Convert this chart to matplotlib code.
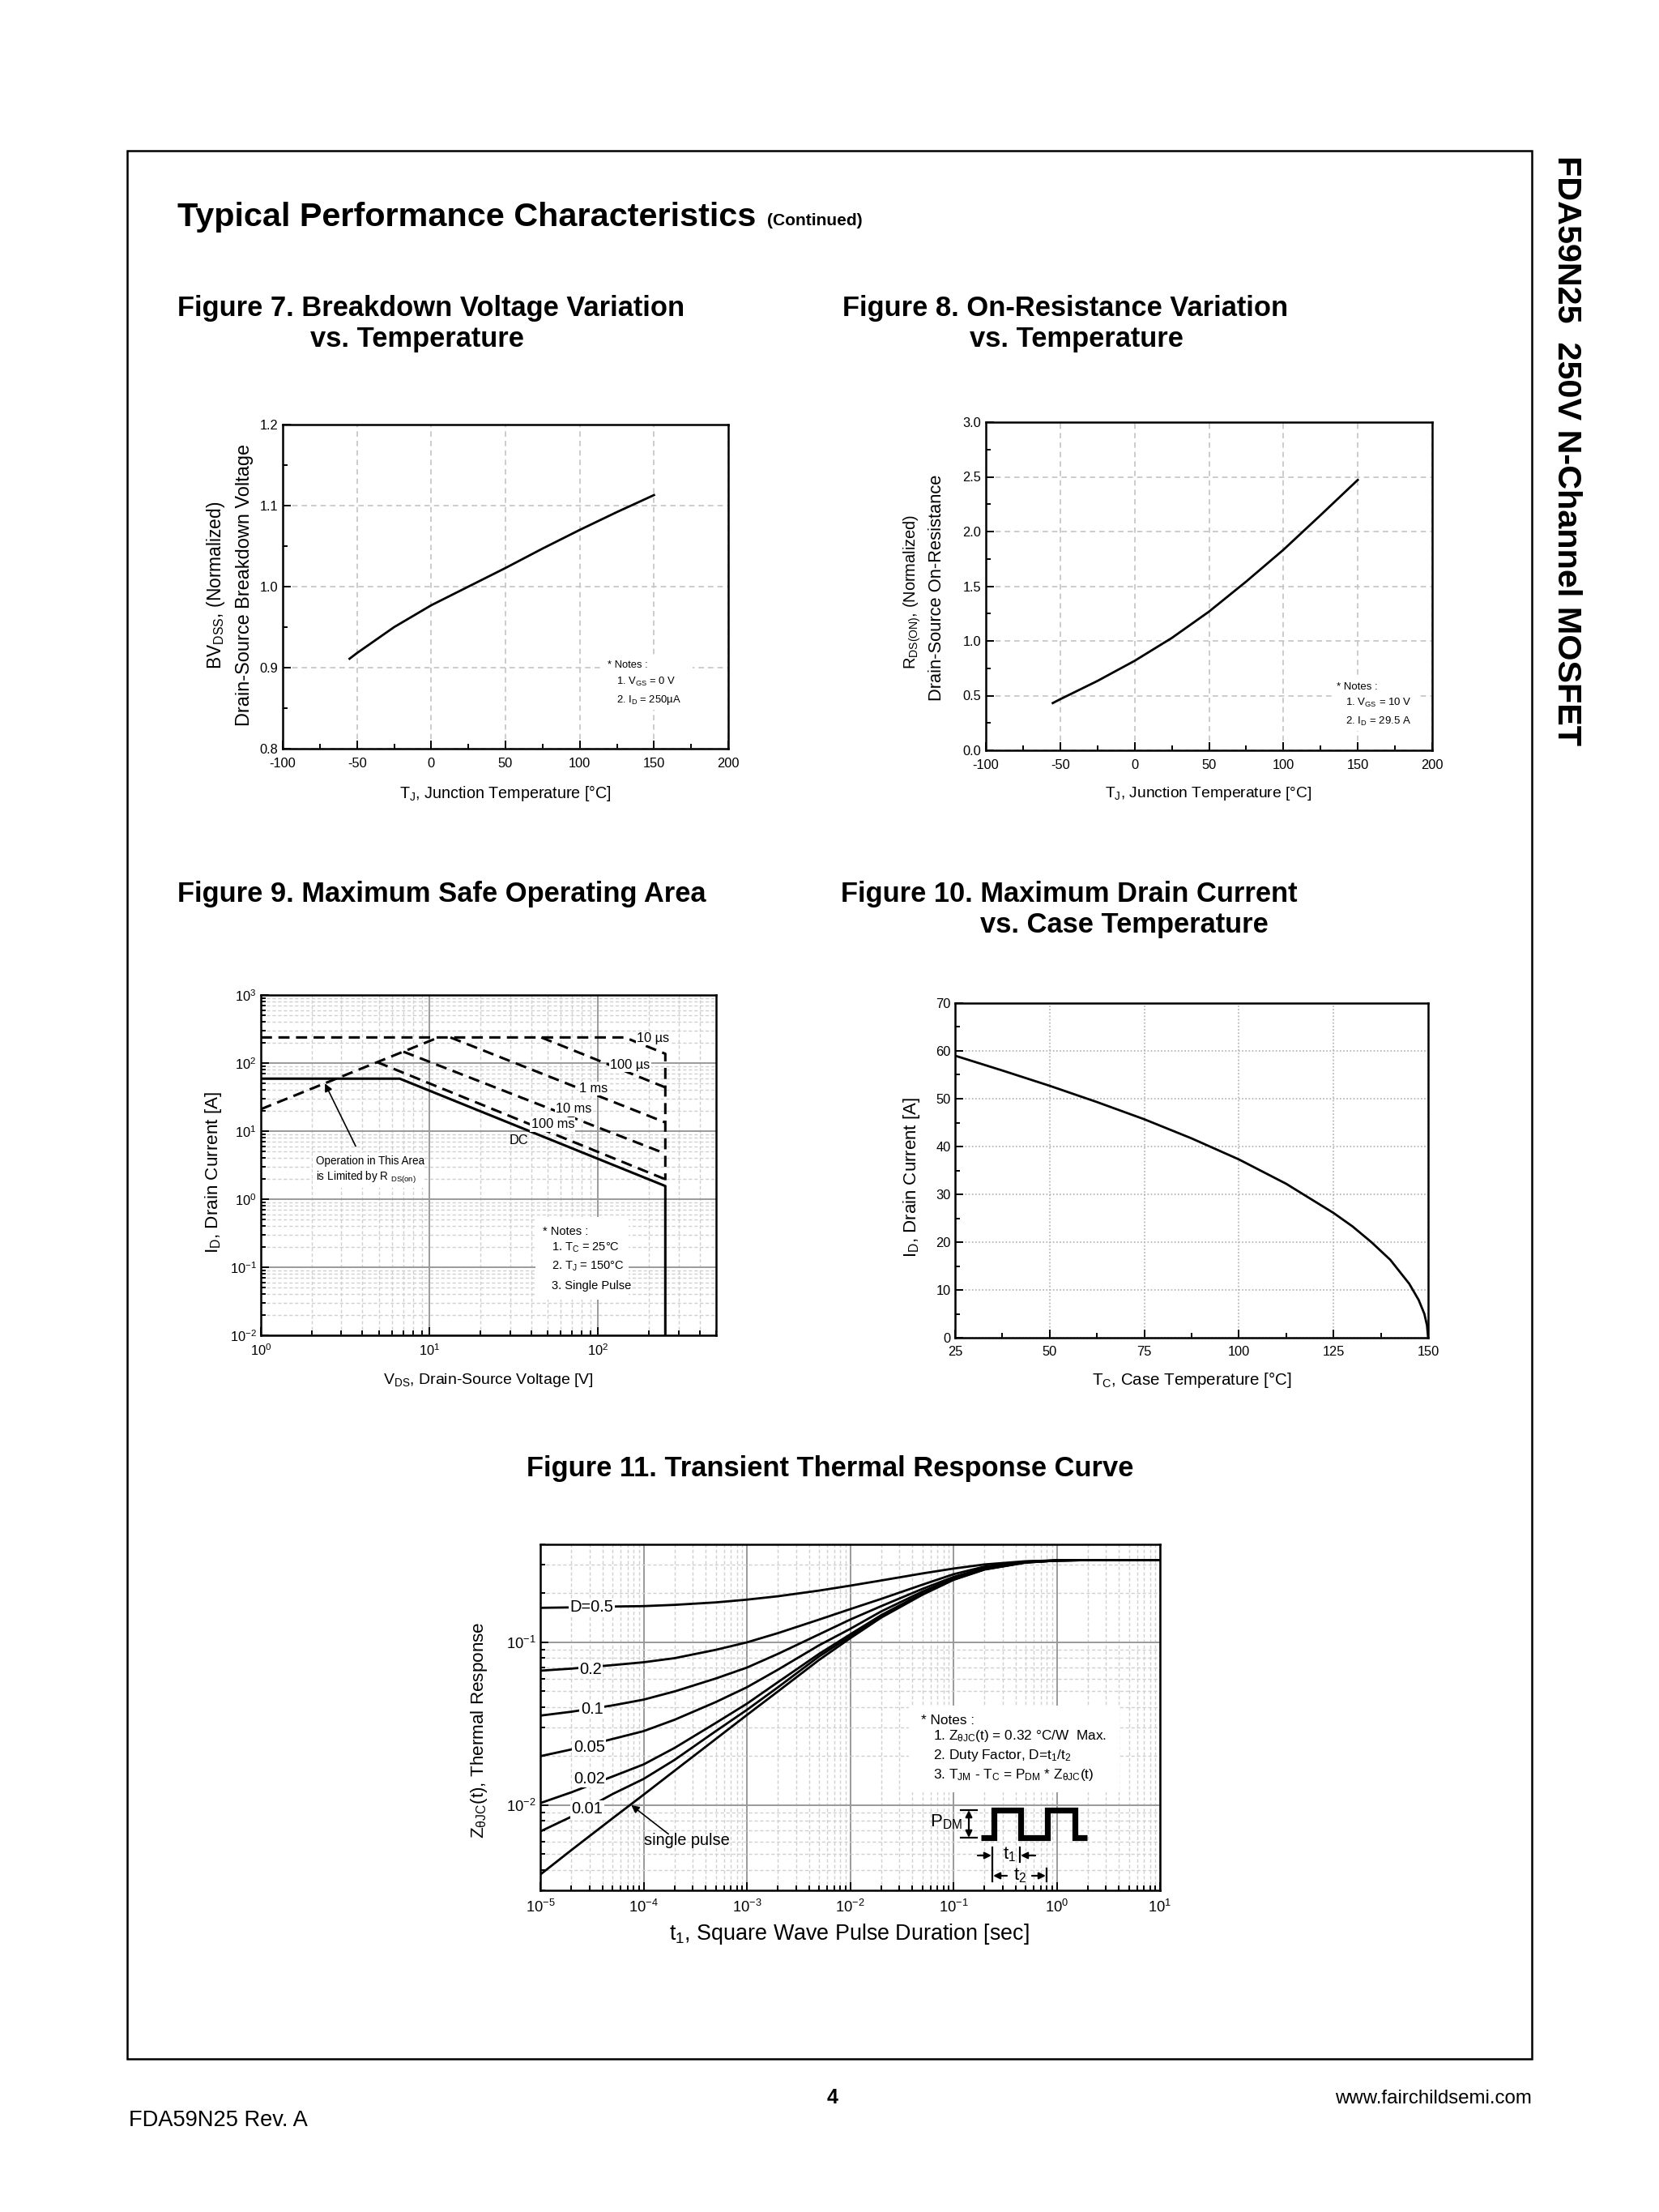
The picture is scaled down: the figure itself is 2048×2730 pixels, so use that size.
import numpy as np
import matplotlib
matplotlib.use('Agg')
import matplotlib.pyplot as plt
import matplotlib.font_manager as fm
from matplotlib.ticker import (MultipleLocator, LogLocator, NullFormatter,
                               LogFormatterMathtext, FormatStrFormatter)
from matplotlib.patches import Rectangle
from matplotlib.lines import Line2D

# ---------------- DATA ----------------
# Figure 7: breakdown voltage vs temperature
tj7 = [-55, -50, -25, 0, 25, 50, 75, 100, 125, 150]
bv7 = [0.911, 0.918, 0.950, 0.977, 1.000, 1.023, 1.047, 1.070, 1.092, 1.113]

# Figure 8: on-resistance vs temperature
tj8 = [-55, -50, -25, 0, 25, 50, 75, 100, 125, 150]
rds8 = [0.432, 0.467, 0.634, 0.818, 1.027, 1.268, 1.543, 1.833, 2.150, 2.472]

# Figure 9: safe operating area
vds_dc = [1, 6.66, 250, 250]
id_dc = [59, 59, 1.56, 0.01]
vds_rds = [1, 11.3]
id_rds = [21, 238]
vds_10us = [1, 144, 250, 250]
id_10us = [238, 238, 137, 1.9]
vds_100us = [46, 250]
id_100us = [238, 43.9]
vds_1ms = [13.3, 250]
id_1ms = [238, 13.4]
vds_10ms = [7.0, 250]
id_10ms = [147, 4.67]
vds_100ms = [4.9, 250]
id_100ms = [103, 1.96]
soa_labels = ['10 µs', '100 µs', '1 ms', '10 ms', '100 ms']
soa_label_v = [170, 118, 77, 56, 40]
soa_label_i = [232, 93, 42, 21, 12.5]

# Figure 10: max drain current vs case temperature
tc10 = [25, 37.5, 50, 62.5, 75, 87.5, 100, 112.5, 125, 130, 135, 140, 145, 147.5, 149, 149.7, 150]
id10 = [59.0, 55.9, 52.7, 49.3, 45.7, 41.7, 37.3, 32.2, 26.1, 23.3, 20.0, 16.3, 11.3, 7.9, 5.0, 2.6, 0.0]

# Figure 11: transient thermal response
t11 = [1e-5, 2e-5, 5e-5, 1e-4, 2e-4, 5e-4, 1e-3, 2e-3, 5e-3, 1e-2,
       2e-2, 5e-2, 1e-1, 2e-1, 5e-1, 1, 2, 5, 10]
z_d05 = [0.163, 0.164, 0.166, 0.167, 0.170, 0.176, 0.183, 0.192, 0.208, 0.223,
         0.240, 0.265, 0.284, 0.301, 0.315, 0.319, 0.32, 0.32, 0.32]
z_d02 = [0.0670, 0.0690, 0.0725, 0.0755, 0.080, 0.090, 0.100, 0.114, 0.138, 0.160,
         0.185, 0.226, 0.262, 0.292, 0.313, 0.319, 0.32, 0.32, 0.32]
z_d01 = [0.0355, 0.0375, 0.041, 0.0445, 0.050, 0.060, 0.070, 0.085, 0.112, 0.138,
         0.167, 0.213, 0.252, 0.287, 0.312, 0.319, 0.32, 0.32, 0.32]
z_d005 = [0.0200, 0.0220, 0.0255, 0.0285, 0.0335, 0.0430, 0.0530, 0.068, 0.096, 0.121,
          0.155, 0.205, 0.247, 0.284, 0.311, 0.318, 0.32, 0.32, 0.32]
z_d002 = [0.0103, 0.0120, 0.0150, 0.0178, 0.0225, 0.0320, 0.0420, 0.057, 0.085, 0.112,
          0.147, 0.200, 0.244, 0.282, 0.310, 0.318, 0.32, 0.32, 0.32]
z_d001 = [0.0069, 0.0085, 0.0117, 0.0145, 0.0190, 0.0285, 0.0385, 0.053, 0.082, 0.109,
          0.145, 0.198, 0.243, 0.281, 0.310, 0.318, 0.32, 0.32, 0.32]
z_single = [0.00375, 0.0053, 0.0083, 0.0116, 0.0163, 0.0255, 0.0358, 0.050, 0.078, 0.106,
            0.142, 0.196, 0.242, 0.280, 0.309, 0.318, 0.32, 0.32, 0.32]
d_labels = ['D=0.5', '0.2', '0.1', '0.05', '0.02', '0.01']
d_label_t = [3.16e-5, 3.06e-5, 3.16e-5, 2.97e-5, 2.97e-5, 2.85e-5]
d_label_z = [0.164, 0.0683, 0.0388, 0.0227, 0.01455, 0.00944]

# ---------------- SETUP ----------------
W, H, DPI = 2048, 2730, 200
_names = {f.name for f in fm.fontManager.ttflist}
REG = 'Liberation Sans' if 'Liberation Sans' in _names else 'DejaVu Sans'
NAR = 'Liberation Sans Narrow' if 'Liberation Sans Narrow' in _names else REG
NARROW = NAR != REG
plt.rcParams.update({
    'font.family': [REG, 'DejaVu Sans'],
    'mathtext.fontset': 'custom',
    'mathtext.rm': REG,
    'mathtext.it': REG + ':italic',
    'mathtext.bf': REG + ':bold',
    'axes.unicode_minus': False,
})
FN = [NAR, 'DejaVu Sans']
TFS = 6.9 if NARROW else 5.9

fig = plt.figure(figsize=(W / DPI, H / DPI), dpi=DPI, facecolor='white')
R = fig.canvas.get_renderer()


def P(x, y):
    return (x / W, 1 - y / H)


def add_ax(x0, y0, x1, y1):
    return fig.add_axes([x0 / W, 1 - y1 / H, (x1 - x0) / W, (y1 - y0) / H])


def ftext(x, y, s, length=None, size=8, **kw):
    t = fig.text(*P(x, y), s, fontsize=size, **kw)
    if length:
        bb = t.get_window_extent(R)
        L = bb.height if (t.get_rotation() % 180) else bb.width
        t.set_fontsize(size * length / L)
    return t


def white_box(x0, y0, x1, y1):
    fig.add_artist(Rectangle(P(x0, y1), (x1 - x0) / W, (y1 - y0) / H,
                             transform=fig.transFigure, fc='white', ec='none', zorder=2))


def style(ax, xpad=4.0, ypad=2.0):
    for s in ax.spines.values():
        s.set_linewidth(0.9)
    ax.tick_params(which='both', direction='in', top=False, right=False, width=0.7,
                   labelsize=TFS, labelfontfamily=NAR)
    ax.tick_params(which='major', length=3.5)
    ax.tick_params(which='minor', length=2.0)
    ax.tick_params(axis='x', which='major', pad=xpad)
    ax.tick_params(axis='y', which='major', pad=ypad)
    ax.set_axisbelow(True)


# page border
fig.add_artist(Rectangle(P(157, 2541), (1891 - 157) / W, (2541 - 186) / H,
                         transform=fig.transFigure, fill=False, ec='black', lw=0.9))

# ---------------- PAGE TEXT ----------------
ftext(219, 279, 'Typical Performance Characteristics', 713, weight='bold', va='baseline')
ftext(947, 278, '(Continued)', 118, weight='bold', va='baseline')

titles = [
    (219, 390, 'Figure 7. Breakdown Voltage Variation', 630),
    (383, 428, 'vs. Temperature', 265),
    (1040, 390, 'Figure 8. On-Resistance Variation', 552),
    (1197, 428, 'vs. Temperature', 264),
    (219, 1113, 'Figure 9. Maximum Safe Operating Area', 650),
    (1038, 1113, 'Figure 10. Maximum Drain Current', 559),
    (1210, 1151, 'vs. Case Temperature', 356),
    (650, 1822, 'Figure 11. Transient Thermal Response Curve', 748),
]
tobjs = [ftext(x, y, s, L, weight='bold', va='baseline') for x, y, s, L in titles]
tsz = float(np.median([t.get_fontsize() for t in tobjs]))
for t in tobjs:
    t.set_fontsize(tsz)

ftext(1934, 556, 'FDA59N25  250V N-Channel MOSFET', 728, weight='bold',
      rotation=270, ha='center', va='center')
ftext(1021, 2596, '4', size=9, weight='bold', va='baseline')
ftext(1891, 2596, 'www.fairchildsemi.com', 244, ha='right', va='baseline')
ftext(159, 2624, 'FDA59N25 Rev. A', 221, va='baseline')

# ---------------- FIGURE 7 ----------------
ax7 = add_ax(349, 524, 899, 924)
ax7.plot(tj7, bv7, color='k', lw=1.0, zorder=3)
ax7.set_xlim(-100, 200)
ax7.set_ylim(0.8, 1.2)
ax7.xaxis.set_major_locator(MultipleLocator(50))
ax7.xaxis.set_minor_locator(MultipleLocator(25))
ax7.yaxis.set_major_locator(MultipleLocator(0.1))
ax7.yaxis.set_minor_locator(MultipleLocator(0.05))
ax7.yaxis.set_major_formatter(FormatStrFormatter('%.1f'))
ax7.grid(which='major', ls=(0, (4, 3)), color='#c4c4c4', lw=0.6)
style(ax7)
ftext(624, 979, r'$\mathregular{T_J}$, Junction Temperature [°C]', 262, family=FN,
      ha='center', va='center')
yl1 = ftext(267, 722, r'$\mathregular{BV_{DSS}}$, (Normalized)', 208, rotation=90,
            ha='center', va='center')
yl2 = ftext(302, 722, 'Drain-Source Breakdown Voltage', 349, rotation=90,
            ha='center', va='center')
white_box(745, 808, 855, 876)
n1 = ftext(750, 821, '* Notes :', 50, family=FN, va='center', zorder=3)
ftext(761, 841, r'1. $\mathregular{V_{GS}}$ = 0 V', size=n1.get_fontsize(), family=FN, va='center', zorder=3)
ftext(761, 864, r'2. $\mathregular{I_D}$ = 250µA', size=n1.get_fontsize(), family=FN, va='center', zorder=3)

# ---------------- FIGURE 8 ----------------
ax8 = add_ax(1217, 521, 1768, 926)
ax8.plot(tj8, rds8, color='k', lw=1.0, zorder=3)
ax8.set_xlim(-100, 200)
ax8.set_ylim(0.0, 3.0)
ax8.xaxis.set_major_locator(MultipleLocator(50))
ax8.xaxis.set_minor_locator(MultipleLocator(25))
ax8.yaxis.set_major_locator(MultipleLocator(0.5))
ax8.yaxis.set_minor_locator(MultipleLocator(0.25))
ax8.yaxis.set_major_formatter(FormatStrFormatter('%.1f'))
ax8.grid(which='major', ls=(0, (4, 3)), color='#c4c4c4', lw=0.6)
style(ax8)
ftext(1492, 979, r'$\mathregular{T_J}$, Junction Temperature [°C]', 256, family=FN,
      ha='center', va='center')
ftext(1126, 730, r'$\mathregular{R_{DS(ON)}}$, (Normalized)', 192, rotation=90,
      ha='center', va='center')
ftext(1157, 725, 'Drain-Source On-Resistance', 280, rotation=90,
      ha='center', va='center')
white_box(1644, 835, 1752, 902)
n2 = ftext(1650, 848, '* Notes :', 51, family=FN, va='center', zorder=3)
ftext(1661, 867, r'1. $\mathregular{V_{GS}}$ = 10 V', size=n2.get_fontsize(), family=FN, va='center', zorder=3)
ftext(1661, 890, r'2. $\mathregular{I_D}$ = 29.5 A', size=n2.get_fontsize(), family=FN, va='center', zorder=3)

# ---------------- FIGURE 9 ----------------
ax9 = add_ax(322, 1228, 884, 1648)
ax9.set_xscale('log')
ax9.set_yscale('log')
ax9.set_xlim(1, 500)
ax9.set_ylim(0.01, 1000)
dash = (0, (4.5, 2.6))
ax9.plot(vds_dc, id_dc, color='k', lw=1.1, zorder=3)
for v, i in [(vds_rds, id_rds), (vds_10us, id_10us), (vds_100us, id_100us),
             (vds_1ms, id_1ms), (vds_10ms, id_10ms), (vds_100ms, id_100ms)]:
    ax9.plot(v, i, color='k', lw=1.1, ls=dash, zorder=3)
SFS = 7.0 if NARROW else 5.9
for s, v, i in zip(soa_labels, soa_label_v, soa_label_i):
    ax9.text(v, i, s, ha='left', va='center', fontsize=SFS, family=FN, zorder=5,
             bbox=dict(fc='white', ec='none', pad=0.4))
ax9.text(34, 7.2, 'DC', ha='center', va='center', fontsize=SFS, family=FN, zorder=5)
ax9.annotate('', xy=(2.40, 50), xytext=(3.65, 6.0),
             arrowprops=dict(arrowstyle='-|>', color='k', lw=0.6, mutation_scale=7,
                             shrinkA=0, shrinkB=0), zorder=6)
for ax in (ax9,):
    ax.xaxis.set_major_locator(LogLocator(base=10, numticks=20))
    ax.yaxis.set_major_locator(LogLocator(base=10, numticks=20))
    ax.xaxis.set_minor_locator(LogLocator(base=10, subs=np.arange(2, 10), numticks=20))
    ax.yaxis.set_minor_locator(LogLocator(base=10, subs=np.arange(2, 10), numticks=20))
    ax.xaxis.set_major_formatter(LogFormatterMathtext())
    ax.yaxis.set_major_formatter(LogFormatterMathtext())
    ax.xaxis.set_minor_formatter(NullFormatter())
    ax.yaxis.set_minor_formatter(NullFormatter())
ax9.grid(which='major', color='#9a9a9a', lw=0.7, ls='-')
ax9.grid(which='minor', color='#d0d0d0', lw=0.5, ls=(0, (3, 2)))
style(ax9, xpad=3.5)
ftext(603, 1703, r'$\mathregular{V_{DS}}$, Drain-Source Voltage [V]', 260, family=FN,
      ha='center', va='center')
ftext(264, 1447, r'$\mathregular{I_D}$, Drain Current [A]', 200, rotation=90,
      ha='center', va='center')
white_box(386, 1423, 524, 1466)
oa = ftext(390, 1433, 'Operation in This Area', 135, family=FN, va='center', zorder=3)
ftext(390, 1453, r'is Limited by R $\mathregular{_{DS(on)}}$', size=oa.get_fontsize(),
      family=FN, va='center', zorder=3)
white_box(661, 1502, 776, 1604)
n3 = ftext(670, 1520, '* Notes :', 56, family=FN, va='center', zorder=3)
for yy, s in [(1540, r'1. $\mathregular{T_C}$ = 25°C'), (1563, r'2. $\mathregular{T_J}$ = 150°C'),
              (1587, '3. Single Pulse')]:
    ftext(681, yy, s, size=n3.get_fontsize(), family=FN, va='center', zorder=3)

# ---------------- FIGURE 10 ----------------
ax10 = add_ax(1179, 1238, 1763, 1651)
ax10.plot(tc10, id10, color='k', lw=1.0, zorder=3)
ax10.set_xlim(25, 150)
ax10.set_ylim(0, 70)
ax10.xaxis.set_major_locator(MultipleLocator(25))
ax10.xaxis.set_minor_locator(MultipleLocator(12.5))
ax10.yaxis.set_major_locator(MultipleLocator(10))
ax10.yaxis.set_minor_locator(MultipleLocator(5))
ax10.grid(which='major', ls=(0, (1, 1.5)), color='#b0b0b0', lw=0.6)
style(ax10, xpad=3.5)
ftext(1471, 1703, r'$\mathregular{T_C}$, Case Temperature [°C]', 247, family=FN,
      ha='center', va='center')
ftext(1126, 1453, r'$\mathregular{I_D}$, Drain Current [A]', 198, rotation=90,
      ha='center', va='center')

# ---------------- FIGURE 11 ----------------
ax11 = add_ax(667, 1906, 1432, 2333)
ax11.set_xscale('log')
ax11.set_yscale('log')
ax11.set_xlim(1e-5, 10)
ax11.set_ylim(0.003, 0.4)
for z in (z_d05, z_d02, z_d01, z_d005, z_d002, z_d001, z_single):
    ax11.plot(t11, z, color='k', lw=1.0, zorder=3)
for s, tt, zz in zip(d_labels, d_label_t, d_label_z):
    ax11.text(tt, zz, s, ha='center', va='center', fontsize=7.2, zorder=5,
              bbox=dict(fc='white', ec='none', pad=0.5))
ax11.text(2.6e-4, 0.00604, 'single pulse', ha='center', va='center', fontsize=7.2, zorder=5)
ax11.annotate('', xy=(7.6e-5, 0.0100), xytext=(1.74e-4, 0.00665),
              arrowprops=dict(arrowstyle='-|>', color='k', lw=0.6, mutation_scale=7,
                              shrinkA=0, shrinkB=0), zorder=6)
ax11.xaxis.set_major_locator(LogLocator(base=10, numticks=20))
ax11.yaxis.set_major_locator(LogLocator(base=10, numticks=20))
ax11.xaxis.set_minor_locator(LogLocator(base=10, subs=np.arange(2, 10), numticks=20))
ax11.yaxis.set_minor_locator(LogLocator(base=10, subs=np.arange(2, 10), numticks=20))
ax11.xaxis.set_major_formatter(LogFormatterMathtext())
ax11.yaxis.set_major_formatter(LogFormatterMathtext())
ax11.xaxis.set_minor_formatter(NullFormatter())
ax11.yaxis.set_minor_formatter(NullFormatter())
ax11.grid(which='major', color='#9a9a9a', lw=0.7, ls='-')
ax11.grid(which='minor', color='#d0d0d0', lw=0.5, ls=(0, (3, 2)))
style(ax11, xpad=4.0)
ax11.tick_params(labelsize=6.6, labelfontfamily=REG)
ftext(1048, 2387, r'$\mathregular{t_1}$, Square Wave Pulse Duration [sec]', 445,
      ha='center', va='center')
ftext(592, 2135, r'$\mathregular{Z_{θJC}}$(t), Thermal Response', 268, rotation=90,
      ha='center', va='center')
white_box(1122, 2105, 1382, 2212)
nl = ftext(1152, 2143, r'1. $\mathregular{Z_{θJC}}$(t) = 0.32 °C/W  Max.', 213, va='center', zorder=3)
nfs = nl.get_fontsize()
ftext(1137, 2123, '* Notes :', size=nfs, va='center', zorder=3)
ftext(1152, 2167, r'2. Duty Factor, D=$\mathregular{t_1/t_2}$', size=nfs, va='center', zorder=3)
ftext(1152, 2190, r'3. $\mathregular{T_{JM}}$ - $\mathregular{T_C}$ = $\mathregular{P_{DM}}$ * $\mathregular{Z_{θJC}}$(t)',
      size=nfs, va='center', zorder=3)

# pulse diagram
px = [1211, 1227, 1227, 1260, 1260, 1293, 1293, 1327, 1327, 1342]
py = [2268, 2268, 2234, 2234, 2268, 2268, 2234, 2234, 2268, 2268]
fig.add_artist(Line2D([x / W for x in px], [1 - y / H for y in py], transform=fig.transFigure,
                      color='k', lw=2.6, solid_joinstyle='miter', solid_capstyle='butt', zorder=4))


def fline(x0, y0, x1, y1, lw=0.8):
    fig.add_artist(Line2D([x0 / W, x1 / W], [1 - y0 / H, 1 - y1 / H], transform=fig.transFigure,
                          color='k', lw=lw, zorder=4))


def farrow(x0, y0, x1, y1, style='-|>'):
    ax11.annotate('', xy=P(x1, y1), xytext=P(x0, y0), xycoords='figure fraction',
                  textcoords='figure fraction',
                  arrowprops=dict(arrowstyle=style, color='k', lw=0.8, mutation_scale=6,
                                  shrinkA=0, shrinkB=0))


fline(1186, 2234, 1206, 2234)
fline(1186, 2268, 1206, 2268)
farrow(1196, 2234, 1196, 2268, '<|-|>')
ftext(1148, 2249, r'P$\mathregular{_{DM}}$', size=8, va='center', zorder=4)
fline(1225, 2280, 1225, 2322)
fline(1259, 2280, 1259, 2298)
fline(1292, 2306, 1292, 2322)
farrow(1207, 2290, 1224, 2290)
farrow(1278, 2290, 1260, 2290)
farrow(1243, 2315, 1226, 2315)
farrow(1274, 2315, 1291, 2315)
ftext(1246, 2289, r'$\mathregular{t_1}$', size=8, ha='center', va='center', zorder=4)
ftext(1259, 2315, r'$\mathregular{t_2}$', size=8, ha='center', va='center', zorder=4)

fig.savefig('out.png', dpi=DPI, facecolor='white')
